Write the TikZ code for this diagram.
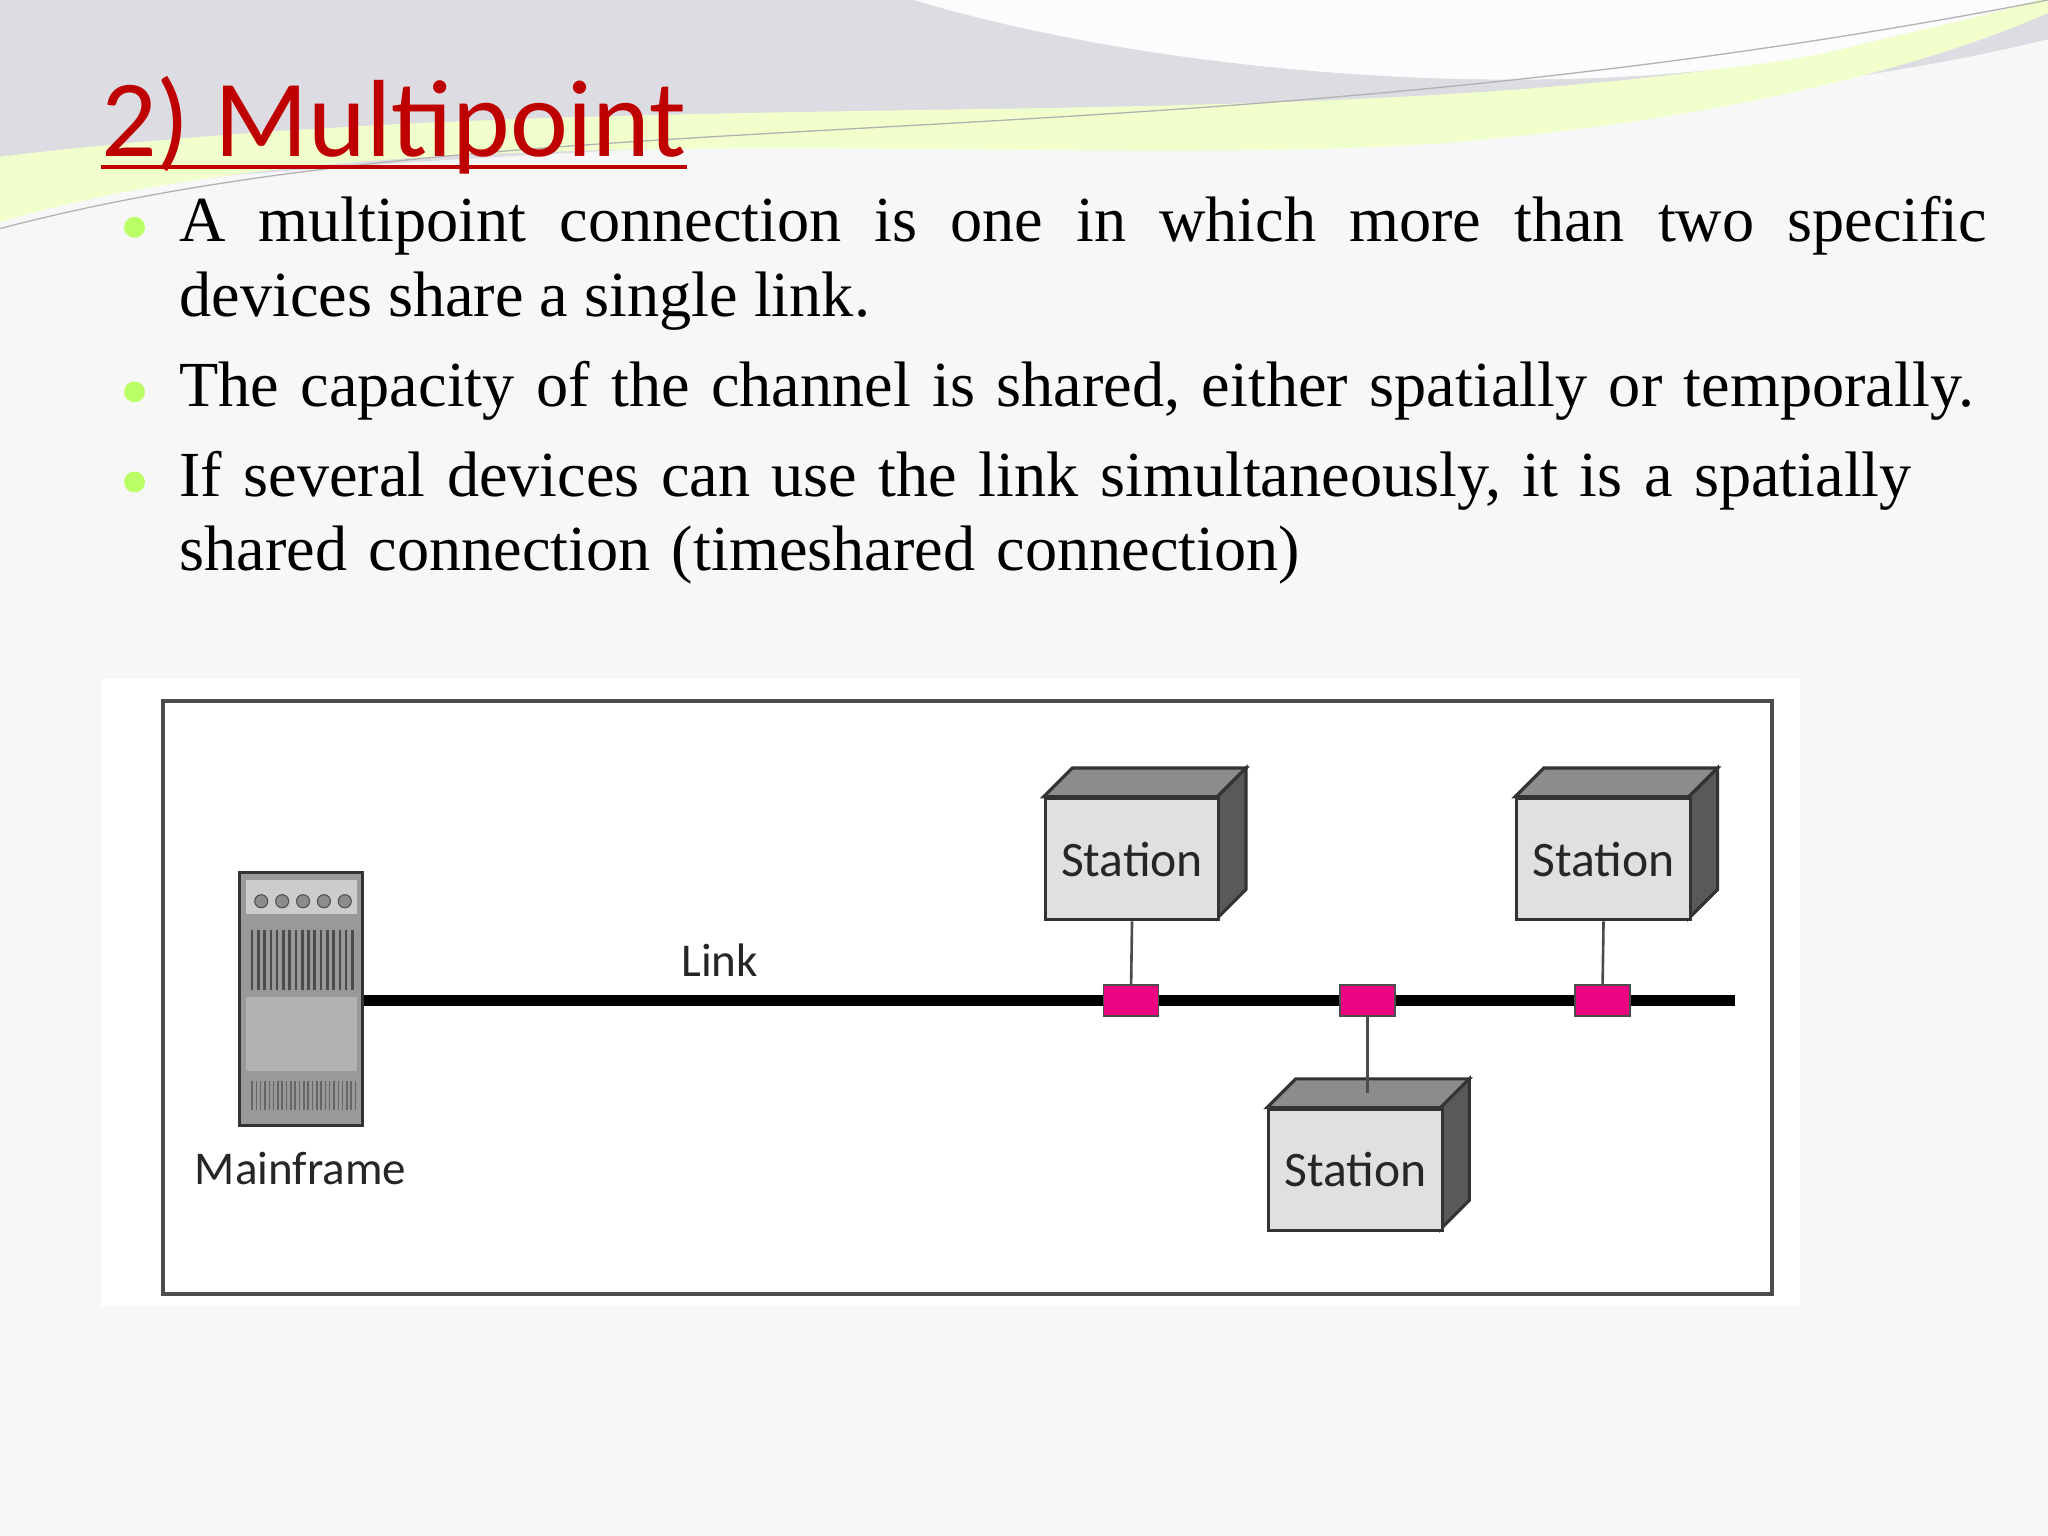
\documentclass[tikz,border=0pt]{standalone}
\usepackage{fontspec}
\setmainfont{Liberation Serif}
\newfontfamily\titlefont{Carlito}
\newfontfamily\labfont{Carlito}
\begin{document}
\begin{tikzpicture}[x=0.5pt,y=-0.5pt,
  face/.style={draw=black!80,line width=1.2pt,fill=black!12},
  side/.style={draw=black!80,line width=1.2pt,fill=black!65},
  topf/.style={draw=black!80,line width=1.2pt,fill=black!45},
  tap/.style={draw=black!70,fill=magenta!90!red,line width=0.6pt,minimum width=21pt,minimum height=12pt,inner sep=0pt},
  bul/.style={circle,fill=green!45!yellow!60!white,minimum size=8pt,inner sep=0pt},
  body/.style={font=\fontsize{24.6}{28.5}\selectfont,anchor=north west,inner sep=0pt,text width=692pt,align=justify},
  lab/.style={font=\labfont\fontsize{18}{20}\selectfont,text=black!85}]
\useasboundingbox (0,0) rectangle (1568,1176);
\fill[black!3] (0,0) rectangle (1568,1176);
% top swoosh
\fill[blue!10!gray!25] (0,0) -- (1568,0) -- (1568,30) .. controls (1200,120) and (700,80) .. (0,150) -- cycle;
\fill[green!30!yellow!20] (0,170) .. controls (300,80) and (800,130) .. (1100,110) .. controls (1350,90) and (1500,40) .. (1568,10) -- (1568,0) -- (700,0) .. controls (900,60) and (1200,80) .. (1400,40) .. controls (1000,110) and (500,60) .. (0,120) -- cycle;
\fill[white!85!blue!8] (700,0) .. controls (900,60) and (1200,80) .. (1400,40) .. controls (1480,20) and (1530,10) .. (1560,0) -- cycle;
\draw[black!30,line width=0.5pt] (0,175) .. controls (400,70) and (900,130) .. (1568,0);
% title
\node[anchor=base west,inner sep=0pt,text=red!75!black,font=\titlefont\fontsize{42}{42}\selectfont] (title) at (77,120) {2) Multipoint};
\draw[red!75!black,line width=1.5pt] ([yshift=-4pt]title.base west) -- ([yshift=-4pt]title.base east);
% bullets
\node[bul] (b1) at (103,174) {};
\node[bul] (b2) at (103,300) {};
\node[bul] (b3) at (103,369) {};
\node[body] (t1) at (137,150) {A multipoint connection is one in which more than two specific\linebreak devices share a single link.};
\node[body,text width=720pt,align=left] (t2) at (137,276) {The capacity of the channel is shared, either spatially or temporally.};
\node[body,align=left] (t3) at (137,345) {If several devices can use the link simultaneously, it is a spatially shared connection (timeshared connection)};
% diagram
\fill[white] (77,520) rectangle (1378,1000);
\draw[black!70,line width=1.5pt] (125,537) rectangle (1357,991);
% mainframe
\node[draw=black!80,line width=1.2pt,fill=black!40,minimum width=47pt,minimum height=97pt,inner sep=0pt] (mf) at (230.5,765) {};
\fill[black!20] (188,674) rectangle (273,700);
\foreach \i in {0,...,4}{\draw[black!70,fill=black!45] (200+\i*16,690) circle (5);}
\foreach \i in {0,...,16}{\draw[black!70,line width=1pt] (193+\i*4.8,712) -- (193+\i*4.8,758);}
\fill[black!30] (188,763) rectangle (273,820);
\foreach \i in {0,...,24}{\draw[black!60,line width=0.6pt] (193+\i*3.3,828) -- (193+\i*3.3,850);}
\node[lab] (mfl) at (230,895) {Mainframe};
% link
\coordinate (le) at (1328,766);
\draw[black,line width=4pt] (mf.east|-le) -- (le);
\node[lab] (ll) at (551,735) {Link};
% stations
\foreach \n/\x/\y in {s1/799/610,s2/1160/610,s3/970/848}{
  \fill[topf] (\x,\y) -- (\x+22,\y-22) -- (\x+155,\y-22) -- (\x+133,\y) -- cycle;
  \fill[side] (\x+133,\y) -- (\x+155,\y-22) -- (\x+155,\y+71) -- (\x+133,\y+93) -- cycle;
  \node[face,minimum width=66.5pt,minimum height=46.5pt,inner sep=0pt,anchor=north west,lab,font=\labfont\fontsize{19}{20}\selectfont] (\n) at (\x,\y) {Station};
}
\node[tap] (p1) at (866,766) {};
\node[tap] (p2) at (1047,766) {};
\node[tap] (p3) at (1227,766) {};
\draw[black!70,line width=1pt] (s1.south) -- (p1.north);
\draw[black!70,line width=1pt] (s2.south) -- (p3.north);
\draw[black!70,line width=1pt] (p2.south) -- (1047,837);
\end{tikzpicture}
\end{document}
